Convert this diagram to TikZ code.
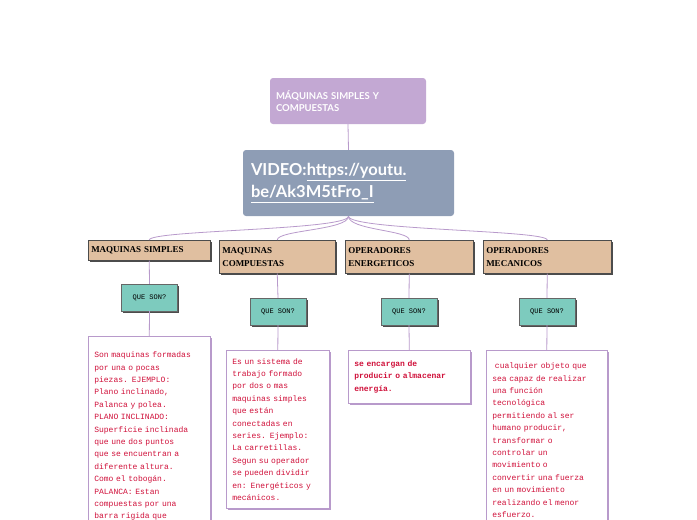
\documentclass[tikz,border=0pt]{standalone}
\usepackage{fontspec}
\usetikzlibrary{shadows,calc}
\setmainfont{Liberation Serif}
\setsansfont{Lato}
\setmonofont{Liberation Mono}
\definecolor{ttl}{HTML}{C3A8D3}
\definecolor{vid}{HTML}{8E9DB5}
\definecolor{cat}{HTML}{E0BFA0}
\definecolor{que}{HTML}{7DCBBE}
\definecolor{lnk}{HTML}{B89ACB}
\definecolor{txt}{HTML}{D0103A}
\begin{document}
\begin{tikzpicture}[x=1pt,y=-1pt,
 catbox/.style={fill=cat,draw=black!70,line width=0.5pt,anchor=north west,inner sep=3pt,align=left,font=\rmfamily\bfseries\fontsize{9}{13}\selectfont,drop shadow={shadow xshift=1.5pt,shadow yshift=-1.5pt,fill=black!70,opacity=1}},
 quebox/.style={fill=que,draw=black!60,line width=0.4pt,minimum width=56pt,minimum height=27pt,font=\ttfamily\fontsize{7}{8}\selectfont,drop shadow={shadow xshift=1.5pt,shadow yshift=-1.5pt,fill=black!70,opacity=1}},
 txtbox/.style={fill=white,draw=lnk,line width=0.6pt,anchor=north west,align=left,inner xsep=6pt,inner ysep=8pt,text=txt,font=\ttfamily\fontsize{8}{12.4}\selectfont,drop shadow={shadow xshift=1.5pt,shadow yshift=-1.5pt,fill=lnk,opacity=1}},
 lk/.style={draw=lnk,line width=0.8pt}]
\useasboundingbox (0,0) rectangle (697,520);
\node[fill=ttl,rounded corners=3pt,minimum width=156pt,minimum height=46pt,text width=144pt,align=left,text=white,font=\sffamily\bfseries\fontsize{9.5}{12}\selectfont] (t) at (348,101) {MÁQUINAS SIMPLES Y\\COMPUESTAS};
\node[fill=vid,rounded corners=3pt,minimum width=211pt,minimum height=66pt,text width=195pt,align=left,text=white,font=\sffamily\bfseries\fontsize{16.5}{22}\selectfont] (v) at (348.5,183) {VIDEO:\underline{https://youtu.}\\\underline{be/Ak3M5tFro\_I}};
\draw[lk] (t.south) -- (v.north);
\node[catbox,minimum width=122pt,minimum height=20pt,text width=116pt] (c1) at (88,240) {MAQUINAS SIMPLES};
\node[catbox,minimum width=116pt,minimum height=33pt,text width=110pt] (c2) at (219,240) {MAQUINAS\\COMPUESTAS};
\node[catbox,minimum width=128pt,minimum height=33pt,text width=122pt] (c3) at (345,240) {OPERADORES\\ENERGETICOS};
\node[catbox,minimum width=128pt,minimum height=33pt,text width=122pt] (c4) at (483,240) {OPERADORES\\MECANICOS};
\foreach \c in {c1,c2,c3,c4}{\draw[lk] (v.south) .. controls ($(v.south)+(0,14)$) and ($(\c.north)+(0,-10)$) .. (\c.north);}
\node[quebox] (q1) at (149.5,297.5) {QUE SON?};
\node[quebox] (q2) at (278,311.5) {QUE SON?};
\node[quebox] (q3) at (409,311.5) {QUE SON?};
\node[quebox] (q4) at (547,311.5) {QUE SON?};
\node[txtbox,text width=110pt,minimum height=200pt] (b1) at (88,336) {Son maquinas formadas\\por una o pocas\\piezas. EJEMPLO:\\Plano inclinado,\\Palanca y polea.\\PLANO INCLINADO:\\Superficie inclinada\\que une dos puntos\\que se encuentran a\\diferente altura.\\Como el tobogán.\\PALANCA: Estan\\compuestas por una\\barra rigida que};
\node[txtbox,text width=91pt] (b2) at (226,350) {Es un sistema de\\trabajo formado\\por dos o mas\\maquinas simples\\que están\\conectadas en\\series. Ejemplo:\\La carretillas.\\Segun su operador\\se pueden dividir\\en: Energéticos y\\mecánicos.};
\node[txtbox,text width=110pt,font=\ttfamily\bfseries\fontsize{8}{12.4}\selectfont,minimum height=53pt] (b3) at (348,350) {se encargan de\\producir o almacenar\\energía.};
\node[txtbox,text width=109pt,minimum height=180pt] (b4) at (486,350) {\ cualquier objeto que\\sea capaz de realizar\\una función\\tecnológica\\permitiendo al ser\\humano producir,\\transformar o\\controlar un\\movimiento o\\convertir una fuerza\\en un movimiento\\realizando el menor\\esfuerzo.};
\foreach \i in {1,2,3,4}{\draw[lk] (c\i.south) -- (q\i.north); \draw[lk] (q\i.south) -- (b\i.north);}
\end{tikzpicture}
\end{document}
